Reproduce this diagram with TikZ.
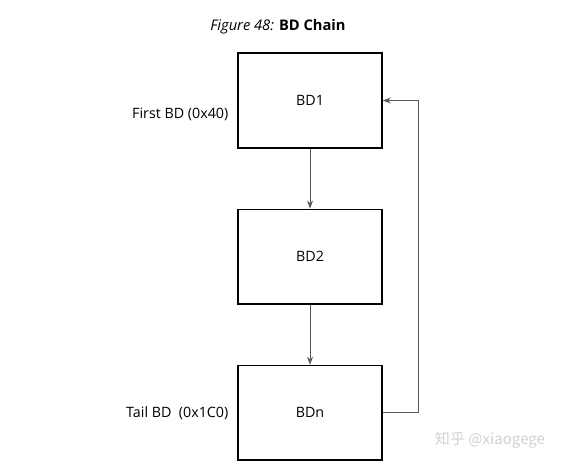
\documentclass[tikz,border=0pt]{standalone}
\usepackage{fontspec}
\setmainfont{Open Sans}
\newfontfamily\cjkfont{Noto Sans CJK SC}
\usetikzlibrary{positioning,arrows.meta}
\begin{document}
\begin{tikzpicture}[x=.75pt,y=-.75pt,font=\fontsize{10.7}{13}\selectfont,
  bdbox/.style={draw,line width=1.1pt,minimum width=108pt,minimum height=71pt},
  link/.style={draw=black!65,line width=.6pt,-{Stealth[length=6pt,width=4.5pt]}}]
\useasboundingbox (0,0) rectangle (566,469);
\node[font=\fontsize{11}{13}\selectfont] (title) at (278,27) {\textit{Figure 48:} \textbf{BD Chain}};
\node[bdbox] (bd1) at (310,100.5) {BD1};
\node[bdbox,below=45pt of bd1] (bd2) {BD2};
\node[bdbox,below=45pt of bd2] (bdn) {BDn};
\node[anchor=east] (first) at (233,114) {First BD (0x40)};
\node[anchor=east] (tail) at (233,413) {Tail BD\ \ (0x1C0)};
\draw[link] (bd1) -- (bd2); \draw[link] (bd2) -- (bdn);
\coordinate (turn) at (418,0);
\draw[link] (bdn.east) -| (turn |- bd1.east) -- (bd1.east);
\node[text=black!18,font=\fontsize{11.3}{13}\selectfont] (mark) at (490,440) {\cjkfont 知乎 @xiaogege};
\end{tikzpicture}
\end{document}
